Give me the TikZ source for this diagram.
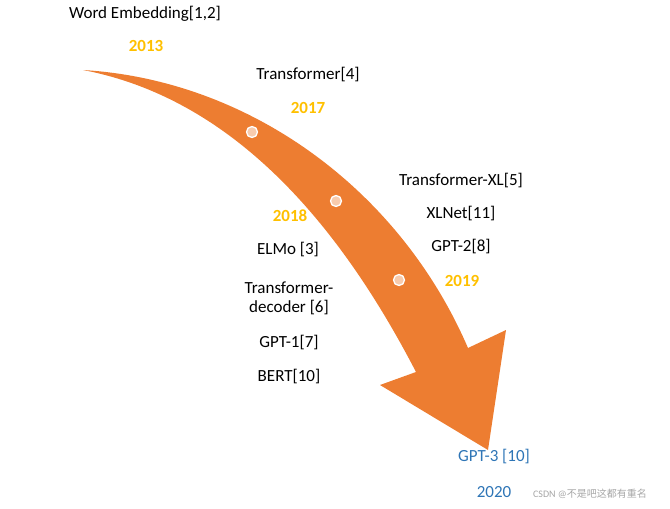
\documentclass[tikz,border=0pt]{standalone}
\usepackage{fontspec}
\setmainfont{Carlito}
\newfontfamily\cjk{Noto Sans CJK SC}
\definecolor{org}{RGB}{237,125,49}
\definecolor{gold}{RGB}{255,192,0}
\definecolor{blu}{RGB}{46,117,182}
\begin{document}
\begin{tikzpicture}[x=1pt,y=-1pt,
  lab/.style={font=\fontsize{17}{19}\selectfont, inner sep=0pt},
  yr/.style={lab, text=gold, font=\fontsize{17}{19}\selectfont\bfseries},
  dot/.style={circle, draw=white, fill=org!40, line width=1.3pt, minimum size=11pt, inner sep=0pt}]
\useasboundingbox (0,0) rectangle (670,509);
\fill[org] (83,70) .. controls (250,80) and (400,190) .. (468,348)
  -- (506,330) -- (488,450) -- (380,385) -- (416,372)
  .. controls (345,235) and (240,100) .. (83,70) -- cycle;
\node[dot] (d1) at (252,132) {};
\node[dot] (d2) at (336,201) {};
\node[dot] (d3) at (399,280) {};
\node[lab] (we) at (145,14) {Word Embedding[1,2]};
\node[yr] (y13) at (146,46) {2013};
\node[lab] (tf) at (308,75) {Transformer[4]};
\node[yr] (y17) at (308,108) {2017};
\node[lab] (txl) at (461,181) {Transformer-XL[5]};
\node[lab] (xl) at (461,214) {XLNet[11]};
\node[lab] (g2) at (461,247) {GPT-2[8]};
\node[yr] (y19) at (462,281) {2019};
\node[yr] (y18) at (290,216) {2018};
\node[lab] (elmo) at (288,250) {ELMo [3]};
\node[lab, align=center] (td) at (289,298) {Transformer-\\decoder [6]};
\node[lab] (g1) at (289,343) {GPT-1[7]};
\node[lab] (bert) at (289,377) {BERT[10]};
\node[lab, text=blu] (g3) at (494,457) {GPT-3 [10]};
\node[lab, text=blu] (y20) at (494,492) {2020};
\node[inner sep=0pt, text=gray!70, font=\fontsize{10}{12}\selectfont] (wm) at (590,494) {CSDN @\cjk 不是吧这都有重名};
\end{tikzpicture}
\end{document}
